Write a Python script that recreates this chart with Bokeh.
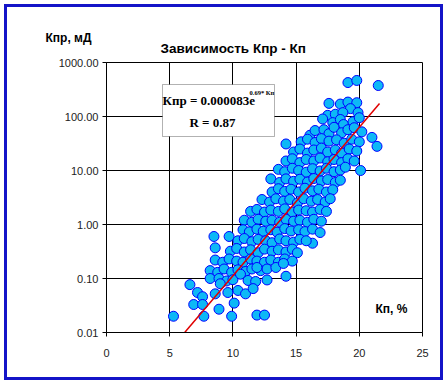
from bokeh.plotting import figure
from bokeh.models import Label, BoxAnnotation, FixedTicker, Range1d, Title
from bokeh.embed import file_html
from bokeh.resources import INLINE
import numpy as np

# ---- data ----
kp = [19.1, 19.8, 21.5,
      17.6, 18.5, 19.1, 19.8, 19.3,
      17.5, 18.1, 18.7, 19.9,
      17.1, 17.9, 18.5, 18.75, 19.5, 20.0,
      16.1, 16.5, 17.2, 17.6, 18.0, 18.6, 19.1, 19.6, 20.2,
      21.0, 21.4, 20.1, 14.2, 13.0,
      15.4, 15.9, 16.5, 17.0, 17.6, 18.2, 18.8, 19.4, 20.0,
      14.8, 15.3, 15.9, 16.4, 17.0, 17.5, 18.1, 18.6, 19.2, 19.8,
      14.2, 14.7, 15.3, 15.8, 16.4, 16.9, 17.5, 18.0, 18.6, 19.1, 19.6,
      13.6, 14.1, 14.7, 15.2, 15.8, 16.3, 16.9, 17.4, 18.0, 18.5, 18.9,
      13.7, 14.2, 14.8, 15.3, 15.9, 16.4, 17.0, 17.5, 18.1, 18.5,
      13.1, 13.6, 14.1, 14.6, 15.2, 15.7, 16.3, 16.8, 17.4, 17.9,
      12.3, 12.9, 13.4, 14.0, 14.5, 15.1, 15.6, 16.2, 16.7, 17.3, 17.7,
      11.4, 11.9, 12.5, 13.0, 13.6, 14.1, 14.7, 15.2, 15.8, 16.3, 16.9, 17.4,
      10.9, 11.5, 12.0, 12.6, 13.1, 13.7, 14.2, 14.8, 15.3, 15.9, 16.4, 17.0,
      10.8, 11.3, 11.9, 12.4, 13.0, 13.5, 14.1, 14.6, 15.2, 15.7, 16.3,
      8.5, 9.7, 16.9, 16.3,
      10.4, 10.9, 11.5, 12.0, 12.6, 13.1, 13.7, 14.2, 14.8, 15.3, 15.8,
      9.8, 10.3, 10.9, 11.4, 12.0, 12.5, 13.1, 13.6, 14.2, 14.7, 15.1, 8.6,
      8.6, 9.2, 9.7, 10.3, 10.8, 11.4, 11.9, 12.5, 13.0, 13.6, 14.1, 14.7,
      8.2, 8.8, 9.3, 9.9, 10.4, 11.0, 11.5, 12.2, 12.7, 13.4, 14.0, 11.9,
      8.2, 8.9, 9.5, 10.0, 10.6, 11.2, 11.8, 12.7, 14.2, 9.0,
      6.6, 7.2, 7.6, 8.6, 9.6, 10.4, 11.0, 11.6,
      6.9, 7.6, 8.9, 10.1, 5.3, 7.7, 9.9, 11.9, 12.5]

kpr = [425, 465, 375,
       175, 170, 185, 180, 140,
       105, 110, 118, 118,
       90, 77, 88, 71, 80, 95,
       45, 55, 57, 48, 63, 50, 57, 62, 52,
       41, 28, 10, 31, 7.0,
       34, 38, 33, 39, 35, 37, 32, 38, 34,
       22, 25, 21, 24, 26, 22, 24, 21, 25, 23,
       15, 16.5, 14, 16, 15, 17, 14.5, 16, 14, 16.5, 15,
       10.5, 9.5, 11, 10, 9.3, 10.8, 9.8, 11, 9.5, 10.2, 11.5,
       6.0, 7.0, 6.3, 6.9, 6.1, 7.1, 6.4, 6.8, 6.0, 6.6,
       4.0, 4.6, 4.1, 4.5, 4.0, 4.7, 4.2, 4.5, 4.0, 4.4,
       2.9, 2.6, 3.0, 2.7, 2.9, 2.5, 3.0, 2.7, 2.9, 2.6, 3.0,
       1.75, 1.9, 1.7, 1.85, 1.75, 1.95, 1.7, 1.85, 1.8, 1.7, 1.9, 1.75,
       1.2, 1.1, 1.25, 1.15, 1.2, 1.1, 1.25, 1.15, 1.2, 1.1, 1.25, 1.15,
       0.8, 0.73, 0.82, 0.75, 0.8, 0.72, 0.84, 0.76, 0.8, 0.74, 0.82,
       0.6, 0.6, 0.71, 0.45,
       0.5, 0.55, 0.48, 0.53, 0.5, 0.46, 0.54, 0.5, 0.47, 0.53, 0.5,
       0.32, 0.36, 0.31, 0.34, 0.3, 0.35, 0.32, 0.34, 0.31, 0.35, 0.3, 0.37,
       0.22, 0.2, 0.23, 0.21, 0.2, 0.23, 0.21, 0.2, 0.22, 0.2, 0.23, 0.21,
       0.14, 0.13, 0.15, 0.13, 0.145, 0.135, 0.15, 0.14, 0.15, 0.16, 0.19, 0.16,
       0.1, 0.1, 0.09, 0.095, 0.12, 0.092, 0.088, 0.094, 0.11, 0.08,
       0.077, 0.055, 0.046, 0.052, 0.055, 0.06, 0.052, 0.065,
       0.033, 0.033, 0.027, 0.035, 0.02, 0.02, 0.02, 0.021, 0.021]

trend_a = 0.0002
trend_b = 0.633
trend_kp = [6.2, 21.6]

x_ticks = [0, 5, 10, 15, 20, 25]
y_ticks = [0.01, 0.1, 1, 10, 100, 1000]
y_tick_labels = ["0.01", "0.10", "1.00", "10.00", "100.00", "1000.00"]

title_text = "Зависимость Кпр - Кп"
y_title = "Кпр, мД"
x_title = "Кп, %"
eq_main = "Кпр = 0.000083e"
eq_sup = "0.69* Кп"
eq_r = "R = 0.87"

# ---- figure ----
p = figure(width=439, height=376, x_range=Range1d(0, 25), y_range=Range1d(0.01, 1000),
           y_axis_type="log", output_backend="svg", toolbar_location=None,
           min_border_left=102, min_border_right=29, min_border_top=58, min_border_bottom=56,
           background_fill_color="white", border_fill_color=None, title=None)
p.styles = {"box-sizing": "content-box", "border": "4px solid white",
            "background-color": "white", "box-shadow": "inset 0 0 0 3px #1414C8"}

p.outline_line_color = "black"
p.outline_line_width = 1
p.grid.grid_line_color = "black"
p.grid.grid_line_alpha = 1.0
p.grid.grid_line_width = 1
p.xgrid.ticker = FixedTicker(ticks=x_ticks)
p.ygrid.ticker = FixedTicker(ticks=y_ticks)

p.xaxis.ticker = FixedTicker(ticks=x_ticks)
p.yaxis.ticker = FixedTicker(ticks=y_ticks)
p.yaxis.major_label_overrides = {t: l for t, l in zip(y_ticks, y_tick_labels)}
p.xaxis.major_label_overrides = {t: str(t) for t in x_ticks}
for ax in (p.xaxis, p.yaxis):
    ax.axis_line_color = "black"
    ax.major_tick_line_color = "black"
    ax.minor_tick_line_color = None
    ax.major_tick_in = 0
    ax.major_tick_out = 4
    ax.major_label_text_font = "Liberation Sans"
    ax.major_label_text_font_size = "11px"
    ax.major_label_text_color = "#222222"
p.yaxis.major_label_standoff = 4
p.xaxis.major_label_standoff = 12

# titles (above the frame): first added sits nearest the frame
p.add_layout(Title(text=title_text, align="left", offset=54, standoff=13,
                   text_font="Liberation Sans", text_font_size="13.5px",
                   text_font_style="bold", text_color="black"), "above")
p.add_layout(Title(text=y_title, align="left", offset=-61, standoff=-25,
                   text_font="Liberation Sans", text_font_size="12px",
                   text_font_style="bold", text_color="black"), "above")

# points
p.scatter(kp, kpr, size=10, marker="circle", fill_color="#0DB8F6", line_color="#0000FF",
          line_width=1)

# trend line
tx = np.array(trend_kp)
p.line(tx, trend_a * np.exp(trend_b * tx), line_color="#E00000", line_width=1.5)

# equation box (screen units relative to frame)
box = BoxAnnotation(left=56, right=168, top=248, bottom=196,
                    left_units="screen", right_units="screen",
                    top_units="screen", bottom_units="screen",
                    fill_color="white", fill_alpha=1.0, line_color="black", line_width=1)
p.add_layout(box)

def lab(txt, x, y, size, font="Liberation Sans", align="center", style="bold", color="black"):
    p.add_layout(Label(x=x, y=y, x_units="screen", y_units="screen", text=txt,
                       text_font=font, text_font_size=size, text_font_style=style,
                       text_align=align, text_baseline="middle", text_color=color))

lab(eq_main, 56, 232, "13px", font="Liberation Serif", align="left")
lab(eq_sup, 143, 240, "6.5px", font="Liberation Serif", align="left")
lab(eq_r, 106, 210, "13px", font="Liberation Serif")
lab(x_title, 285, 24, "12px")

open("out.html", "w").write(file_html(p, INLINE))
